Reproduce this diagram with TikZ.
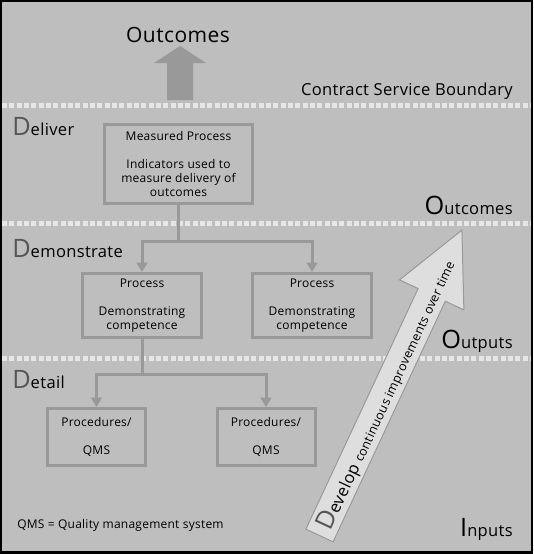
\documentclass[tikz,border=0pt]{standalone}
\usepackage{fontspec}
\setmainfont[LetterSpace=2]{Open Sans}
\usetikzlibrary{arrows.meta}
\definecolor{bggray}{RGB}{190,190,190}
\definecolor{linegray}{RGB}{153,153,153}
\definecolor{dashwhite}{RGB}{230,230,230}
\definecolor{initgray}{RGB}{85,85,85}
\definecolor{arrowfill}{RGB}{222,222,222}
\newcommand{\initcap}[2]{{\fontsize{19}{20}\selectfont\color{#1}#2}}
\tikzset{
  procbox/.style={draw=linegray, line width=2.25pt, align=center, inner sep=0pt,
    font=\fontsize{9}{10.5}\selectfont},
  layer/.style={inner sep=0pt, font=\fontsize{12.4}{14}\selectfont},
  link/.style={draw=linegray, line width=2.25pt},
  linkarrow/.style={link, -{Triangle[width=8pt,length=7pt]}},
  boundary/.style={draw=dashwhite, line width=3.75pt, dash pattern=on 3.75pt off 1.75pt},
}
\begin{document}
\begin{tikzpicture}[x=0.75pt, y=-0.75pt]
	% frame and background
	\fill[black] (0,0) rectangle (533,554);
	\fill[bggray] (2,2) rectangle (531,551);
	\useasboundingbox (0,0) rectangle (533,554);
	
	% layer boundaries
	\draw[boundary] (2,105) -- (531,105);
	\draw[boundary] (2,223) -- (531,223);
	\draw[boundary] (2,358) -- (531,358);
	
	% outcomes leaving the contract
	\node[font=\fontsize{15.75}{18}\selectfont] (outtop) at (178,35) {Outcomes};
	\fill[linegray] (167,100) -- (167,63) -- (154,63) -- (180,46) -- (206,63) -- (193,63) -- (193,100) -- cycle;
	\node[layer, anchor=base east] (boundarylabel) at (513,95) {Contract Service Boundary};
	
	% layer names
	\node[layer, anchor=base west] (deliver) at (12,135) {\initcap{initgray}{D}eliver};
	\node[layer, anchor=base west] (demonstrate) at (12,257) {\initcap{initgray}{D}emonstrate};
	\node[layer, anchor=base west] (detail) at (12,388) {\initcap{initgray}{D}etail};
	\node[layer, anchor=base east] (outcomes) at (513,214) {\initcap{black}{O}utcomes};
	\node[layer, anchor=base east] (outputs) at (513,348) {\initcap{black}{O}utputs};
	\node[layer, anchor=base east] (inputs) at (513,536) {\initcap{black}{I}nputs};
	
	% boxes
	\node[procbox, minimum width=111pt, minimum height=59.25pt] (measured) at (178.5,164)
		{Measured Process\\[10.5pt]Indicators used to\\measure delivery of\\outcomes};
	\node[procbox, minimum width=89.25pt, minimum height=48pt] (procA) at (142,305.5)
		{Process\\[10.5pt]Demonstrating\\competence};
	\node[procbox, minimum width=89.25pt, minimum height=48pt] (procB) at (312,305.5)
		{Process\\[10.5pt]Demonstrating\\competence};
	\node[procbox, minimum width=73.5pt, minimum height=42.75pt] (qmsA) at (96.5,437)
		{Procedures/\\[10.5pt]QMS};
	\node[procbox, minimum width=73.5pt, minimum height=42.75pt] (qmsB) at (266,437)
		{Procedures/\\[10.5pt]QMS};
	
	% connectors
	\coordinate (splitA) at (measured.south |- 0,241);
	\coordinate (splitB) at (procA.south |- 0,374);
	\draw[link] (measured.south) -- (splitA);
	\draw[linkarrow] (splitA) -| (procA.north);
	\draw[linkarrow] (splitA) -| (procB.north);
	\draw[link] (procA.south) -- (splitB);
	\draw[linkarrow] (splitB) -| (qmsA.north);
	\draw[linkarrow] (splitB) -| (qmsB.north);
	
	\node[inner sep=0pt, anchor=base west, font=\fontsize{9}{10.5}\selectfont] (legend) at (17,528)
		{QMS = Quality management system};
	
	% improvement arrow
	\begin{scope}[shift={(319.5,535.5)}, rotate=65]
		\filldraw[fill=arrowfill, draw=linegray, line width=0.75pt]
			(0,-15) -- (265.5,-15) -- (265.5,-35.5) -- (337,0) -- (265.5,35.5) -- (265.5,15) -- (0,15) -- cycle;
		\node[layer, rotate=65, anchor=base west] (develop) at (8,8)
			{\initcap{initgray}{D}evelop {\fontsize{9.4}{11}\selectfont continuous improvements over time}};
	\end{scope}
\end{tikzpicture}
\end{document}
